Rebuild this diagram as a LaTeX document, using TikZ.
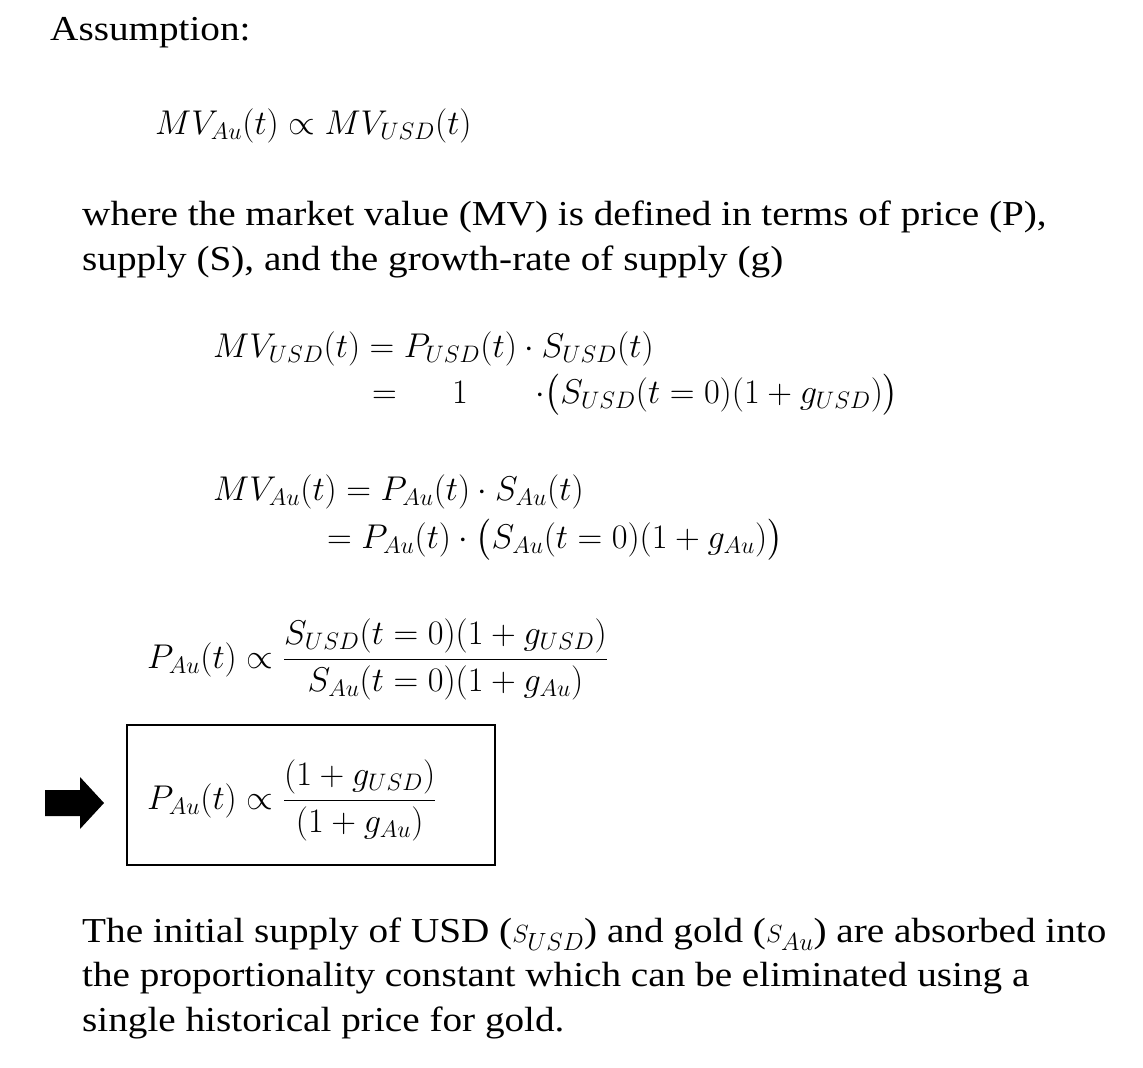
\documentclass[tikz,border=0pt]{standalone}
\usepackage{amsmath}
\usepackage{graphicx}
\usepackage{fontspec}
\setmainfont[FakeStretch=1.12]{Liberation Serif}
\newcommand\mbx[1]{\scalebox{1.38}{$#1$}}
\begin{document}
\begin{tikzpicture}[x=1pt,y=-1pt,
  txt/.style={anchor=base west,inner sep=0pt,font=\fontsize{35}{42}\selectfont},
  eq/.style={anchor=base west,inner sep=0pt,font=\fontsize{24}{30}\selectfont}]
\useasboundingbox (0,0) rectangle (1143,1068);
\node[txt] (t1) at (50,40) {Assumption:};
\node[eq] (e0) at (155,134) {\mbx{MV_{Au}(t)\propto MV_{USD}(t)}};
\node[txt] (t2) at (82,225) {where the market value (MV) is defined in terms of price (P),};
\node[txt] (t3) at (82,270) {supply (S), and the growth-rate of supply (g)};
\node[eq] (e1) at (213,357) {\mbx{MV_{USD}(t)=P_{USD}(t)\cdot S_{USD}(t)}};
\node[eq] (e2a) at (372,403) {\mbx{=}};
\node[eq] (e2b) at (452,403) {\mbx{1}};
\node[eq] (e2c) at (535,403) {\mbx{\cdot\big(S_{USD}(t=0)(1+g_{USD})\big)}};
\node[eq] (e3) at (213,500) {\mbx{MV_{Au}(t)=P_{Au}(t)\cdot S_{Au}(t)}};
\node[eq] (e4) at (327,548) {\mbx{=P_{Au}(t)\cdot\big(S_{Au}(t=0)(1+g_{Au})\big)}};
\node[eq] (e5) at (147,668) {\mbx{P_{Au}(t)\propto\dfrac{S_{USD}(t=0)(1+g_{USD})}{S_{Au}(t=0)(1+g_{Au})}}};
\node[draw,line width=2.5pt,minimum width=368pt,minimum height=140pt,inner sep=0pt] (box) at (311,795) {};
\node[eq] (e6) at (147,809) {\mbx{P_{Au}(t)\propto\dfrac{(1+g_{USD})}{(1+g_{Au})}}};
\fill (45,790) -- (80,790) -- (80,777) -- (104,803) -- (80,829) -- (80,816) -- (45,816) -- cycle;
\node[txt] (t4) at (82,942) {The initial supply of USD ($S_{USD}$) and gold ($S_{Au}$) are absorbed into};
\node[txt] (t5) at (82,986) {the proportionality constant which can be eliminated using a};
\node[txt] (t6) at (82,1031) {single historical price for gold.};
\end{tikzpicture}
\end{document}
